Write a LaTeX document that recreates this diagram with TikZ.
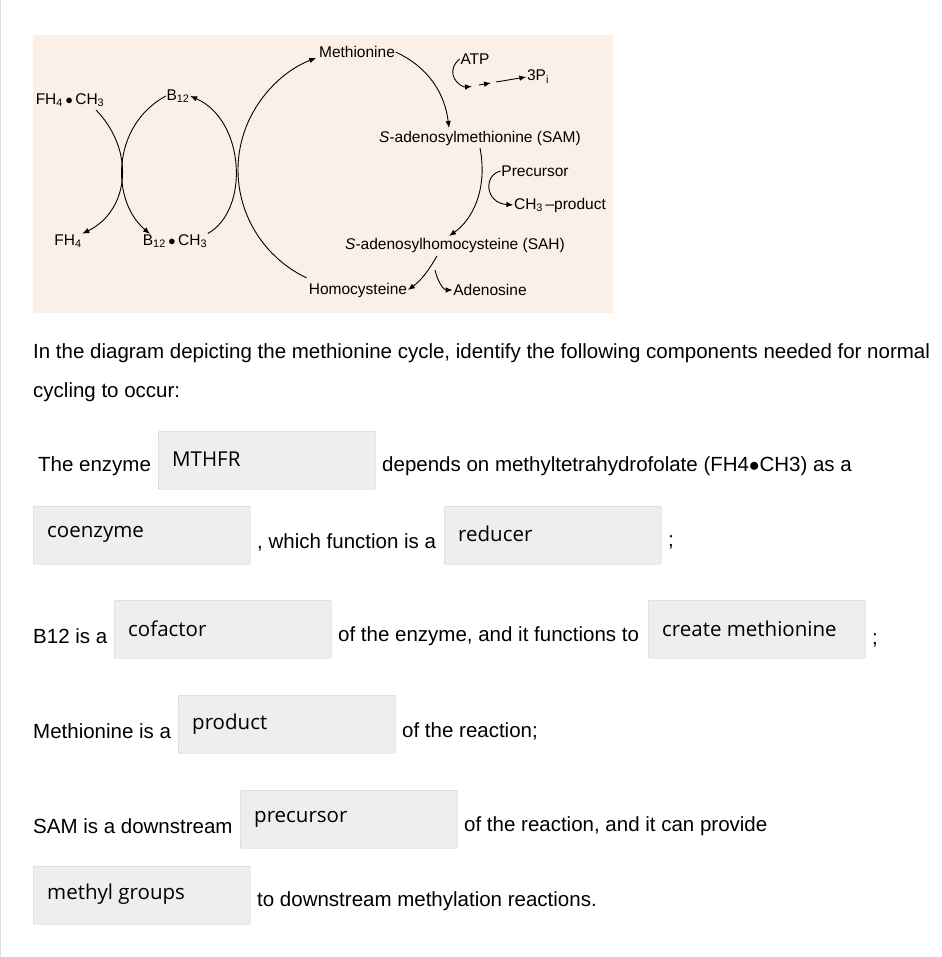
\documentclass[tikz,border=0pt]{standalone}
\usepackage{fontspec}
\setmainfont{Liberation Sans}
\newfontfamily\boxfont{Open Sans}
\usetikzlibrary{arrows.meta,calc}
\definecolor{bgdia}{HTML}{FBF0E7}
\definecolor{boxfill}{HTML}{EEEEEE}
\definecolor{boxline}{HTML}{C8C8C8}
\begin{document}
\begin{tikzpicture}[x=1pt,y=-1pt,
  lab/.style={font=\fontsize{15.5}{18}\selectfont,inner sep=0.5pt},
  txt/.style={font=\fontsize{20.5}{24}\selectfont,anchor=west,inner sep=0pt},
  ans/.style={draw=boxline,fill=boxfill,rounded corners=1.5pt,minimum width=217pt,minimum height=58pt,anchor=north west},
  anst/.style={font=\boxfont\fontsize{20.5}{24}\selectfont,anchor=west,inner sep=0pt},
  arr/.style={-{Latex[length=7pt,width=5.5pt]},line width=0.9pt}]
\useasboundingbox (0,0) rectangle (941,957);
\fill[white] (0,0) rectangle (941,957);
\draw[boxline!60] (0.5,0) -- (0.5,957);
\fill[bgdia] (33,35) rectangle (613,313);
% labels
\node[lab] (meth) at (357,52) {Methionine};
\node[lab] (atp) at (475,59) {ATP};
\node[lab] (pi) at (538,77) {3P\textsubscript{i}};
\node[lab] (fhch) at (70,100) {FH\textsubscript{4}\,$\bullet$\,CH\textsubscript{3}};
\node[lab] (b12) at (178,96) {B\textsubscript{12}};
\node[lab] (sam) at (480,138) {\textit{S}-adenosylmethionine (SAM)};
\node[lab] (prec) at (535,171) {Precursor};
\node[lab] (chp) at (560,205) {CH\textsubscript{3}\,--product};
\node[lab] (fh) at (68,241) {FH\textsubscript{4}};
\node[lab] (b12ch) at (175,241) {B\textsubscript{12}\,$\bullet$\,CH\textsubscript{3}};
\node[lab] (sah) at (455,245) {\textit{S}-adenosylhomocysteine (SAH)};
\node[lab] (hcy) at (358,290) {Homocysteine};
\node[lab] (ado) at (490,290) {Adenosine};
% connectors
\coordinate (cc) at (360,170);
\draw[arr] ([shift={(116:122 and 120)}]cc) arc[start angle=116,end angle=249,x radius=122,y radius=120];
\draw[arr] (meth.east) .. controls (430,68) and (445,95) .. (449,128);
\draw[arr] (480,148) .. controls (488,190) and (472,220) .. (449,236);
\draw[arr] (437,256) .. controls (430,268) and (422,280) .. (hcy.east);
\draw[arr] (96,110) .. controls (135,150) and (130,210) .. (fh.north east);
\draw[arr] (b12.west) .. controls (112,125) and (110,200) .. (150,234);
\draw[arr] (b12ch.north east) .. controls (250,210) and (245,120) .. (b12.east);
\draw[line width=0.9pt] (atp.west) .. controls (448,68) and (452,82) .. (464,87);
\draw[arr] (464,87) -- (472,86.5);
\draw[arr] (479,85) -- (491,83);
\draw[arr] (496,82) -- (pi.west);
\draw[arr] (prec.west) .. controls (483,175) and (485,203) .. (chp.west);
\draw[arr] (435,270) .. controls (438,283) and (444,290) .. (ado.west);
% question text
\node[txt] (q1) at (33,353) {In the diagram depicting the methionine cycle, identify the following components needed for normal};
\node[txt] (q2) at (33,392) {cycling to occur:};
\node[txt] (t1) at (38,466) {The enzyme};
\node[ans] (b1) at (158,431) {}; \node[anst] at (172,459) {MTHFR};
\node[txt] (t2) at (382,466) {depends on methyltetrahydrofolate (FH4$\bullet$CH3) as a};
\node[ans] (b2) at (33,506) {}; \node[anst] at (47,534) {coenzyme};
\node[txt] (t3) at (257,542) {, which function is a};
\node[ans] (b3) at (444,506) {}; \node[anst] at (458,534) {reducer};
\node[txt] (t4) at (668,542) {;};
\node[txt] (t5) at (33,636) {B12 is a};
\node[ans] (b4) at (114,600) {}; \node[anst] at (128,629) {cofactor};
\node[txt] (t6) at (338,636) {of the enzyme, and it functions to};
\node[ans] (b5) at (648,600) {}; \node[anst] at (662,629) {create methionine};
\node[txt] (t7) at (872,640) {;};
\node[txt] (t8) at (33,731) {Methionine is a};
\node[ans] (b6) at (178,695) {}; \node[anst] at (192,724) {product};
\node[txt] (t9) at (402,731) {of the reaction;};
\node[txt] (t10) at (33,826) {SAM is a downstream};
\node[ans] (b7) at (240,790) {}; \node[anst] at (254,819) {precursor};
\node[txt] (t11) at (464,826) {of the reaction, and it can provide};
\node[ans] (b8) at (33,866) {}; \node[anst] at (47,894) {methyl groups};
\node[txt] (t12) at (257,901) {to downstream methylation reactions.};
\end{tikzpicture}
\end{document}
